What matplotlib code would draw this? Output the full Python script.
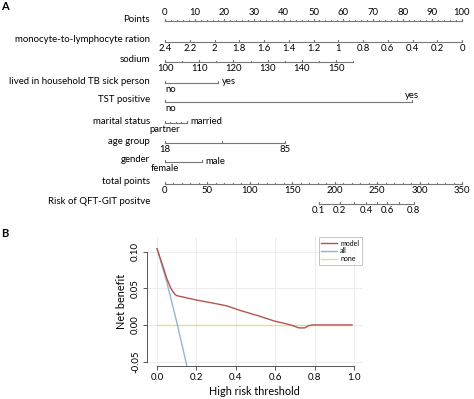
import matplotlib
matplotlib.use('Agg')
import matplotlib.pyplot as plt
import numpy as np

plt.rcParams['font.family'] = ['Lato', 'DejaVu Sans']

# ---- nomogram (panel A) ----
points_ticks = list(range(0, 101, 10))
mlr_ticks = [2.4, 2.2, 2.0, 1.8, 1.6, 1.4, 1.2, 1.0, 0.8, 0.6, 0.4, 0.2, 0.0]
mlr_at_0, mlr_at_100 = 2.4, 0.0
sodium_ticks = [100, 110, 120, 130, 140, 150]
sodium_end = 155
sodium_pts_per_unit = 1.152
household_pts = {'no': 0, 'yes': 18}
tst_pts = {'no': 0, 'yes': 83}
marital_pts = {'partner': 0, 'married': 7.4}
age_ticks = [18, 50, 85]
age_max_pts = 40.4
gender_pts = {'female': 0, 'male': 12.5}
total_ticks = [0, 50, 100, 150, 200, 250, 300, 350]
total_max = 350
risk_ticks = [0.1, 0.2, 0.3, 0.4, 0.5, 0.6, 0.7, 0.8]
risk_total = [181, 206, 223, 237, 250, 262, 276, 293]
risk_shown = [0.1, 0.2, 0.4, 0.6, 0.8]

# ---- decision curve (panel B) ----
thr_model = [0.0, 0.03, 0.05, 0.07, 0.09, 0.10, 0.15, 0.20, 0.30, 0.355, 0.42,
             0.52, 0.60, 0.65, 0.69, 0.72, 0.75, 0.77, 0.79, 0.85, 0.99]
nb_model = [0.104, 0.080, 0.063, 0.050, 0.042, 0.040, 0.037, 0.034, 0.029, 0.026, 0.020,
            0.012, 0.005, 0.002, -0.001, -0.004, -0.004, -0.001, 0.0, 0.0, 0.0]
thr_all = [0.0, 0.05, 0.10, 0.15, 0.17]
nb_all = [0.104, 0.058, 0.004, -0.054, -0.080]
thr_none = [0.0, 0.99]
nb_none = [0.0, 0.0]

W, H = 474, 399
fig = plt.figure(figsize=(W / 100, H / 100), dpi=100)

# panel A drawn in an axes spanning the figure: x in points, y in pixels
ax = fig.add_axes([0, 0, 1, 1])
x0, scale = 165.0, 2.97
ax.set_xlim(-x0 / scale, (W - x0) / scale)
ax.set_ylim(H, 0)
ax.axis('off')

line_kw = dict(color='#777777', lw=0.8)
fs_lab = 6.9
fs_tick = 6.8
lab_x = -5.0


def draw_axis(y, label, pos, labels, minor=None, above=False):
    ax.plot([min(pos + (minor or [])), max(pos + (minor or []))], [y, y], **line_kw)
    for p in (minor or []):
        ax.plot([p, p], [y, y - 1.5], **line_kw)
    for p in pos:
        ax.plot([p, p], [y, y - 2.5], **line_kw)
    for p, t in zip(pos, labels):
        if above:
            ax.text(p, y - 4, t, ha='center', va='bottom', fontsize=fs_tick)
        else:
            ax.text(p, y + 2, t, ha='center', va='top', fontsize=fs_tick)
    ax.text(lab_x, y - 2, label, ha='right', va='center', fontsize=fs_lab)


def fmt(v):
    return ('%g' % v)


# Points
draw_axis(21, 'Points', points_ticks, [str(p) for p in points_ticks],
          minor=list(np.arange(0, 101, 2)), above=True)

# monocyte-to-lymphocyte ratio
mlr_pos = [(mlr_at_0 - v) / (mlr_at_0 - mlr_at_100) * 100 for v in mlr_ticks]
draw_axis(42, 'monocyte-to-lymphocyte ration', mlr_pos, [fmt(v) for v in mlr_ticks])

# sodium
sod_pos = [(v - 100) * sodium_pts_per_unit for v in sodium_ticks]
sod_minor = [(v - 100) * sodium_pts_per_unit for v in range(100, sodium_end + 1, 5)]
draw_axis(62, 'sodium', sod_pos, [str(v) for v in sodium_ticks], minor=sod_minor)


def draw_cat(y, label, cats, end_style):
    (n0, p0), (n1, p1) = list(cats.items())
    ax.plot([p0, p1], [y, y], **line_kw)
    ax.plot([p0, p0], [y, y - 2], **line_kw)
    ax.plot([p1, p1], [y, y - 2], **line_kw)
    ax.text(p0, y + 2, n0, ha='left' if len(n0) < 5 else 'center', va='top', fontsize=fs_tick)
    if end_style == 'above':
        ax.text(p1, y - 2, n1, ha='center', va='bottom', fontsize=fs_tick)
    else:
        ax.text(p1 + 1.2, y - 1, n1, ha='left', va='center', fontsize=fs_tick)
    ax.text(lab_x, y - 2, label, ha='right', va='center', fontsize=fs_lab)
    return p0, p1


draw_cat(83, 'lived in household TB sick person', household_pts, 'right')
draw_cat(102, 'TST positive', tst_pts, 'above')
p0, p1 = draw_cat(123, 'marital status', marital_pts, 'right')
for p in np.linspace(p0, p1, 5):
    ax.plot([p, p], [123, 121.5], **line_kw)
draw_cat(162, 'gender', gender_pts, 'right')

# age group
age_pos = [(a - age_ticks[0]) / (age_ticks[-1] - age_ticks[0]) * age_max_pts for a in age_ticks]
draw_axis(143, 'age group', age_pos, ['18', '', '85'])

# total points
tot_pos = [t / total_max * 100 for t in total_ticks]
tot_minor = [t / total_max * 100 for t in range(0, total_max + 1, 10)]
draw_axis(184, 'total points', tot_pos, [str(t) for t in total_ticks], minor=tot_minor)

# risk
risk_pos = [t / total_max * 100 for t in risk_total]
risk_lab = [fmt(r) if r in risk_shown else '' for r in risk_ticks]
draw_axis(204, 'Risk of QFT-GIT positve', risk_pos, risk_lab)

fig.text(1 / W, 1 - 1 / H, 'A', ha='left', va='top', fontsize=8, fontweight='bold')
fig.text(1 / W, 1 - 228 / H, 'B', ha='left', va='top', fontsize=8, fontweight='bold')

# ---- panel B ----
bx = fig.add_axes([147 / W, 1 - 366 / H, 215 / W, 129 / H])
bx.set_xlim(-0.051, 1.041)
bx.set_ylim(-0.056, 0.12)
bx.set_xticks([0, 0.2, 0.4, 0.6, 0.8, 1.0])
bx.set_yticks([-0.05, 0.0, 0.05, 0.10])
bx.set_xticklabels(['0.0', '0.2', '0.4', '0.6', '0.8', '1.0'], fontsize=7)
bx.set_yticklabels(['-0.05', '0.00', '0.05', '0.10'], fontsize=7, rotation=90, va='center')
bx.grid(True, color='#ececec', lw=0.7)
bx.set_axisbelow(True)
for s in ['top', 'right']:
    bx.spines[s].set_visible(False)
bx.spines['left'].set_bounds(-0.05, 0.10)
bx.spines['bottom'].set_bounds(0, 1.0)
for s in ['left', 'bottom']:
    bx.spines[s].set_color('#555555')
    bx.spines[s].set_linewidth(0.7)
bx.tick_params(length=3, width=0.7, color='#555555', pad=2)

bx.plot(thr_none, nb_none, color='#e6d9a4', lw=1.0, label='none', zorder=2)
bx.plot(thr_all, nb_all, color='#94b6d2', lw=1.0, label='all', zorder=3)
bx.plot(thr_model, nb_model, color='#b5544c', lw=1.0, label='model', zorder=4)

handles, labels = bx.get_legend_handles_labels()
order = [2, 1, 0]
leg = bx.legend([handles[i] for i in order], [labels[i] for i in order],
                loc='upper right', fontsize=5, frameon=True, fancybox=False,
                borderaxespad=0, handlelength=2.2, labelspacing=0.1,
                borderpad=0.4, handletextpad=0.5)
leg.get_frame().set_edgecolor('#aaaaaa')
leg.get_frame().set_linewidth(0.6)

bx.set_xlabel('High risk threshold', fontsize=7.8, labelpad=3)
bx.set_ylabel('Net benefit', fontsize=7.8, labelpad=3)

fig.savefig('out.png', dpi=100)
